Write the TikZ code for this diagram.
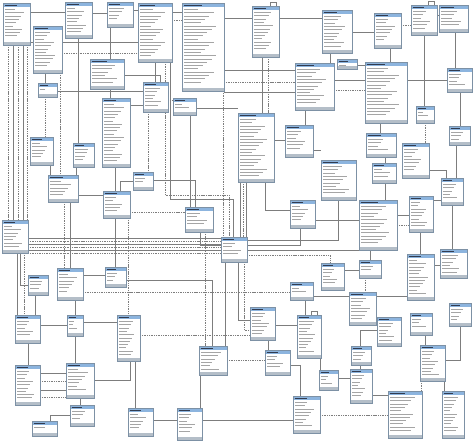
\documentclass[tikz,border=0pt]{standalone}
\usetikzlibrary{fit}
\definecolor{hdrc}{RGB}{140,180,222}
\definecolor{ftrc}{RGB}{180,190,200}
\definecolor{bordc}{RGB}{125,145,165}
\definecolor{rowc}{RGB}{165,165,165}
\definecolor{connc}{RGB}{125,125,125}
\definecolor{htxt}{RGB}{50,60,80}
\pgfdeclarelayer{bg}
\pgfsetlayers{bg,main}
\tikzset{
 tblbox/.style={inner sep=0pt, outer sep=0pt, draw=none},
 hdr/.style={fill=hdrc},
 ftr/.style={fill=ftrc},
 tbord/.style={draw=bordc, line width=0.4pt},
 hline/.style={draw=htxt, line width=0.8pt},
 rline/.style={draw=rowc, line width=0.7pt},
 conn/.style={draw=connc, line width=0.32pt},
 dconn/.style={conn, dash pattern=on 1.5pt off 1pt},
}
\newcommand\tb[5]{%
  \node[tblbox, fit={(#2,#3) (#4,#5)}] (#1) {};
  \fill[white] (#2,#3) rectangle (#4,#5);
  \fill[hdr] (#2,#3) rectangle (#4,{#3+4});
  \fill[ftr] (#2,{#5-3}) rectangle (#4,#5);
  \draw[tbord] (#2,#3) rectangle (#4,#5);
  \draw[hline] ({#2+1.5},{#3+2}) -- ({#2+1.5+(#4-#2)*0.45},{#3+2});
  \pgfmathtruncatemacro\nr{max(1,floor((#5-#3-9)/3.3))}%
  \foreach \k in {1,...,\nr}{%
    \pgfmathsetmacro\yy{#3+6.3+(\k-1)*3.3}%
    \pgfmathsetmacro\xe{#2+2+(#4-#2-6)*(0.4+0.55*mod(\k*7+#2,9)/9)}%
    \draw[rline] ({#2+2},\yy) -- (\xe,\yy);
  }%
}
\newcommand\hc[4][conn]{\draw[#1] (#2.east |- 0,#4) -- (#3.west |- 0,#4);}
\newcommand\vc[4][conn]{\draw[#1] (#2.south -| #4,0) -- (#3.north -| #4,0);}
\begin{document}
\begin{tikzpicture}[x=0.5mm,y=-0.5mm]
\useasboundingbox (0,0) rectangle (474,443);
% ---------- tables ----------
\tb{A}{3}{3}{30}{45}
\tb{B}{65}{2}{92}{38}
\tb{C}{107}{2}{133}{27}
\tb{D}{138}{3}{172}{62}
\tb{E}{182}{3}{224}{91}
\tb{F}{252}{6}{279}{57}
\tb{G}{295}{63}{334}{110}
\tb{H}{173}{98}{196}{115}
\tb{I}{238}{113}{274}{182}
\tb{J}{285}{125}{313}{157}
\tb{K}{143}{82}{168}{112}
\tb{L}{33}{26}{62}{73}
\tb{M}{90}{59}{124}{89}
\tb{N}{38}{83}{57}{97}
\tb{O}{102}{98}{130}{167}
\tb{P}{30}{137}{53}{165}
\tb{Q}{73}{143}{94}{167}
\tb{R}{322}{10}{352}{53}
\tb{S}{374}{13}{401}{48}
\tb{T}{411}{5}{437}{35}
\tb{U}{439}{5}{468}{32}
\tb{V}{337}{59}{357}{69}
\tb{W}{365}{62}{407}{123}
\tb{X}{447}{68}{472}{92}
\tb{Y}{416}{106}{434}{123}
\tb{Z}{449}{126}{470}{145}
\tb{AA}{366}{133}{396}{157}
\tb{AB}{402}{143}{429}{178}
\tb{AC}{321}{160}{356}{200}
\tb{AD}{372}{163}{396}{183}
\tb{AE}{359}{200}{397}{250}
\tb{AF}{409}{196}{433}{232}
\tb{AG}{441}{178}{463}{205}
\tb{AH}{440}{249}{467}{278}
\tb{AI}{407}{254}{434}{300}
\tb{AJ}{321}{263}{344}{290}
\tb{AK}{359}{260}{381}{278}
\tb{AL}{349}{292}{376}{325}
\tb{AM}{2}{220}{28}{253}
\tb{AN}{48}{175}{78}{202}
\tb{AO}{103}{191}{130}{218}
\tb{AP}{133}{172}{153}{190}
\tb{AQ}{28}{275}{48}{295}
\tb{AR}{57}{268}{83}{300}
\tb{AS}{105}{267}{126}{287}
\tb{AT}{185}{207}{213}{232}
\tb{AU}{221}{237}{247}{262}
\tb{AV}{290}{200}{315}{228}
\tb{AW}{290}{282}{313}{300}
\tb{BA}{15}{315}{40}{343}
\tb{BB}{67}{315}{83}{336}
\tb{BC}{117}{315}{140}{361}
\tb{BD}{15}{365}{40}{405}
\tb{BE}{66}{363}{94}{398}
\tb{BF}{70}{405}{94}{426}
\tb{BG}{32}{421}{57}{436}
\tb{BH}{128}{408}{153}{436}
\tb{BI}{250}{307}{275}{340}
\tb{BJ}{297}{315}{321}{358}
\tb{BK}{199}{346}{227}{375}
\tb{BL}{265}{350}{290}{375}
\tb{BM}{177}{408}{202}{440}
\tb{BN}{293}{396}{320}{433}
\tb{BO}{377}{317}{401}{346}
\tb{BP}{410}{313}{432}{335}
\tb{BQ}{449}{303}{471}{326}
\tb{BR}{420}{345}{445}{381}
\tb{BS}{351}{346}{371}{365}
\tb{BT}{319}{370}{338}{390}
\tb{BU}{350}{369}{372}{403}
\tb{BV}{388}{391}{422}{438}
\tb{BW}{442}{391}{464}{438}
% ---------- connectors ----------
\begin{pgfonlayer}{bg}
\fill[white] (0,0) rectangle (474,443);
\hc{A}{B}{12}
\hc{B}{C}{13}
\hc{C}{D}{10}
\hc{D}{E}{12}
\hc[dconn]{D}{E}{20}
\hc{E}{F}{18}
\hc{F}{R}{18}
\hc{R}{S}{32}
\hc[dconn]{S}{T}{25}
\hc{T}{U}{15}
\hc{A}{L}{42}
\hc{L}{D}{42}
\hc[dconn]{L}{D}{53}
\vc{B}{Q}{78}
\vc{C}{M}{110}
\vc{M}{O}{110}
\hc{N}{K}{91}
\vc{D}{K}{155}
\vc[dconn]{K}{AP}{148}
\draw[conn] (M.east |- 0,75) -| (K.north -| 160,0);
\vc[dconn]{E}{AU}{223}
\vc{I}{AU}{240}
\vc[dconn]{I}{AU}{243}
\vc{I}{AU}{246}
\draw[dconn] (D.south -| 165,0) -- (165,195) -| (AU.north -| 229,0);
\draw[conn] (D.south -| 170,0) -- (170,199) -| (AU.north -| 233,0);
\hc{E}{G}{70}
\hc[dconn]{E}{G}{82}
\hc{E}{G}{92}
\vc{G}{J}{305}
\hc{I}{J}{140}
\hc{H}{I}{108}
\hc[dconn]{K}{H}{100}
\hc{O}{K}{105}
\vc{R}{G}{330}
\hc{V}{W}{65}
\hc{G}{W}{80}
\hc[dconn]{G}{W}{90}
\hc{W}{X}{80}
\vc{T}{Y}{424}
\vc{X}{Z}{460}
\vc{W}{AA}{380}
\vc[dconn]{Y}{AB}{425}
\vc{AA}{AD}{385}
\vc{AD}{AE}{385}
\hc{J}{AC}{150}
\hc{AE}{AF}{215}
\hc[dconn]{AE}{AF}{225}
\hc{AF}{AG}{200}
\draw[conn] (AB.east |- 0,170) -| (AG.north -| 446,0);
\vc{Z}{AG}{456}
\vc{AG}{AH}{452}
\vc{AF}{AI}{420}
\hc{AI}{AH}{265}
\vc{AE}{AK}{370}
\hc{AJ}{AK}{270}
\vc[dconn]{AK}{AL}{365}
\hc{AL}{AI}{296}
\draw[conn] (BO.west |- 0,330) -| (BS.north -| 360,0);
\vc{BP}{BR}{425}
\draw[conn] (BQ.south -| 460,0) |- (BR.east |- 0,360);
\vc{BR}{BW}{444}
\vc[dconn]{BR}{BV}{421}
\hc{BU}{BV}{395}
\vc{BS}{BU}{360}
\hc{BT}{BU}{378}
\vc{BJ}{BT}{320}
\vc{AW}{BJ}{305}
\hc{BI}{BJ}{325}
\vc{BI}{BL}{268}
\hc[dconn]{BK}{BL}{360}
\draw[conn] (BL.east |- 0,365) -| (BN.north -| 300,0);
\vc{BK}{BM}{200}
\hc{BM}{BN}{420}
\hc[dconn]{BN}{BV}{415}
\vc{AU}{BK}{225}
\draw[conn] (AU.south -| 238,0) |- (BI.west |- 0,320);
\draw[dconn] (AU.south -| 244,0) |- (BI.west |- 0,330);
\draw[conn] (AT.south -| 200,0) |- (AU.west |- 0,245);
\draw[conn] (AU.east |- 0,245) -| (AV.south -| 300,0);
\draw[conn] (AV.west |- 0,210) -| (I.south -| 265,0);
\draw[dconn] (AU.east |- 0,255) -| (AJ.north -| 330,0);
\draw[conn] (AU.east |- 0,240) -| (AC.south -| 338,0);
\draw[conn] (AU.east |- 0,250) -| (AE.south -| 390,0);
\vc[dconn]{A}{AM}{8}
\vc{A}{AM}{13}
\vc[dconn]{A}{AM}{18}
\vc{A}{AM}{23}
\vc[dconn]{A}{AM}{27}
\vc[dconn]{L}{AN}{60}
\vc{L}{N}{45}
\vc[dconn]{N}{P}{45}
\vc{P}{AN}{50}
\vc{Q}{AN}{76}
\hc{AN}{AO}{195}
\draw[conn] (AO.north -| 120,0) |- (AP.west |- 0,181);
\vc{O}{AO}{115}
\hc{AM}{AU}{238}
\hc[dconn]{AM}{AU}{241}
\hc{AM}{AU}{244}
\hc[dconn]{AM}{AU}{247}
\hc{AM}{AU}{250}
\hc[dconn]{AM}{AU}{253}
\vc{AO}{AS}{115}
\vc[dconn]{AO}{BC}{128}
\draw[conn] (AM.south -| 20,0) |- (AQ.west |- 0,285);
\vc[dconn]{AM}{BA}{24}
\vc{AM}{BA}{17}
\vc{AN}{AR}{70}
\vc[dconn]{AN}{AR}{64}
\vc{AR}{BB}{75}
\vc{AQ}{BA}{35}
\vc{BA}{BD}{28}
\hc{BA}{BB}{325}
\hc{BB}{BC}{322}
\hc{BD}{BE}{373}
\hc[dconn]{BD}{BE}{381}
\hc{BD}{BE}{390}
\hc[dconn]{BD}{BE}{397}
\vc{BB}{BE}{75}
\vc{BE}{BF}{80}
\draw[conn] (BF.west |- 0,415) -| (BG.north -| 50,0);
\draw[conn] (BE.east |- 0,380) -| (BC.south -| 130,0);
\hc{AR}{AS}{275}
\vc{BC}{BH}{135}
\hc{BH}{BM}{420}
\hc[dconn]{BC}{BI}{335}
\draw[conn] (AS.east |- 0,280) -| (BK.north -| 212,0);
\draw[conn] (AP.east |- 0,180) -| (AT.north -| 195,0);
\hc[dconn]{AO}{AT}{212}
\hc[dconn]{AR}{AW}{292}
\hc{AW}{AL}{296}
\hc{AV}{AE}{220}
\vc{F}{I}{262}
\vc[dconn]{F}{I}{268}
\vc{S}{W}{390}
\vc{U}{X}{455}
\vc{H}{AT}{190}
\vc[dconn]{AT}{BK}{205}
\draw[conn] (F.north -| 270,0) -- ++(0,-4) -| (F.north -| 276,0);
\draw[conn] (T.north -| 428,0) -- ++(0,-4) -| (T.north -| 434,0);
\draw[conn] (BJ.north -| 311,0) -- ++(0,-4) -| (BJ.north -| 317,0);
\end{pgfonlayer}
\end{tikzpicture}
\end{document}
